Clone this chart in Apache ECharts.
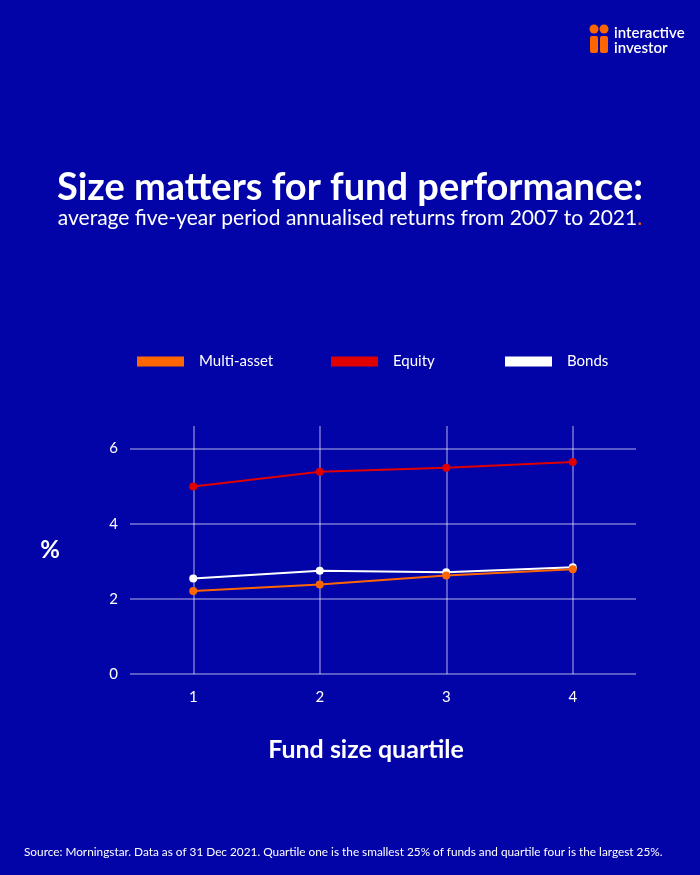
<!DOCTYPE html>
<html>
<head>
<meta charset="utf-8">
<script src="https://cdn.jsdelivr.net/npm/echarts@6/dist/echarts.min.js"></script>
<style>
  html, body { margin: 0; padding: 0; background: #0204a8; }
  #chart { width: 700px; height: 875px; }
</style>
</head>
<body>
<div id="chart"></div>
<script>
// quartiles and annualised returns (%)
const quartiles = ['1', '2', '3', '4']
const multiAsset = [2.21, 2.38, 2.62, 2.79]
const equity = [4.99, 5.38, 5.49, 5.64]
const bonds = [2.54, 2.75, 2.71, 2.84]
const yTicks = [0, 2, 4, 6]

const bg = '#0204a8'
const orange = '#ff6600'
const red = '#e00000'
const font = 'Lato, "Noto Sans", sans-serif'

const chart = echarts.init(document.getElementById('chart'))

const legendBase = {
  icon: 'rect',
  itemWidth: 47,
  itemHeight: 10,
  itemGap: 17,
  padding: 0,
  top: 354,
  textStyle: { color: '#fff', fontSize: 15, fontFamily: font, padding: [0, 0, 0, 10] }
}

const option = {
  backgroundColor: bg,
  animation: false,
  title: [{
    text: 'Size matters for fund performance:',
    left: 'center',
    top: 164,
    textStyle: { color: '#fff', fontSize: 38, fontWeight: 'bold', fontFamily: font }
  }, {
    text: 'average five-year period annualised returns from 2007 to 2021{dot|.}',
    left: 'center',
    top: 203,
    textStyle: {
      color: '#fff', fontSize: 21, fontWeight: 'normal', fontFamily: font,
      rich: { dot: { color: orange, fontSize: 21, fontFamily: font } }
    }
  }],
  legend: [
    Object.assign({}, legendBase, { left: 137, data: ['Multi-asset'] }),
    Object.assign({}, legendBase, { left: 331, data: ['Equity'] }),
    Object.assign({}, legendBase, { left: 505, data: ['Bonds'] })
  ],
  grid: { left: 130, right: 64, top: 426, bottom: 201 },
  xAxis: {
    type: 'category',
    data: quartiles,
    boundaryGap: true,
    axisLine: { show: false },
    axisTick: { show: false },
    axisLabel: { color: '#fff', fontSize: 15, fontFamily: font, margin: 16 },
    splitLine: { show: true, alignWithLabel: true, lineStyle: { color: 'rgba(255,255,255,0.35)', width: 2 } }
  },
  yAxis: {
    type: 'value',
    min: 0,
    max: 6.6,
    interval: 2,
    name: '%',
    nameLocation: 'middle',
    nameRotate: 0,
    nameGap: 70,
    nameTextStyle: { color: '#fff', fontSize: 24, fontWeight: 'bold', fontFamily: font },
    axisLine: { show: false },
    axisTick: { show: false },
    axisLabel: {
      color: '#fff', fontSize: 15, fontFamily: font, margin: 12,
      formatter: v => (yTicks.indexOf(v) >= 0 ? String(v) : '')
    },
    splitLine: { show: true, showMaxLine: false, lineStyle: { color: 'rgba(255,255,255,0.35)', width: 2 } }
  },
  series: [{
    name: 'Multi-asset',
    type: 'line',
    data: multiAsset,
    color: orange,
    symbol: 'circle',
    symbolSize: 8,
    lineStyle: { width: 2 },
    z: 4
  }, {
    name: 'Equity',
    type: 'line',
    data: equity,
    color: red,
    symbol: 'circle',
    symbolSize: 8,
    lineStyle: { width: 2 }
  }, {
    name: 'Bonds',
    type: 'line',
    data: bonds,
    color: '#ffffff',
    symbol: 'circle',
    symbolSize: 8,
    lineStyle: { width: 2 },
    z: 3
  }],
  graphic: [
    // logo
    { type: 'circle', shape: { cx: 594, cy: 29, r: 4.5 }, style: { fill: orange } },
    { type: 'circle', shape: { cx: 604, cy: 29, r: 4.5 }, style: { fill: orange } },
    { type: 'rect', shape: { x: 590, y: 36, width: 8, height: 17, r: 2 }, style: { fill: orange } },
    { type: 'rect', shape: { x: 600, y: 36, width: 8, height: 17, r: 2 }, style: { fill: orange } },
    { type: 'text', left: 614, top: 26, style: { text: 'interactive', fill: '#fff', font: '600 15px ' + font } },
    { type: 'text', left: 614, top: 41, style: { text: 'investor', fill: '#fff', font: '600 15px ' + font } },
    // x axis title
    { type: 'text', x: 366, y: 750, style: { text: 'Fund size quartile', fill: '#fff', font: 'bold 25px ' + font, align: 'center', verticalAlign: 'middle' } },
    // source
    { type: 'text', left: 24, top: 846, style: {
      text: 'Source: Morningstar. Data as of 31 Dec 2021. Quartile one is the smallest 25% of funds and quartile four is the largest 25%.',
      fill: '#fff', font: '11.8px ' + font } }
  ]
}

chart.setOption(option)
</script>
</body>
</html>
